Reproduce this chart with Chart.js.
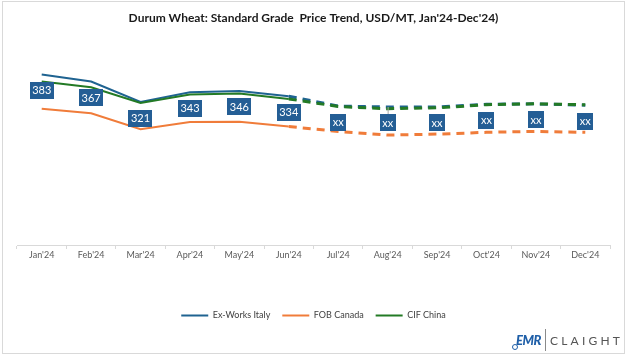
<!DOCTYPE html>
<html>
<head>
<meta charset="utf-8">
<script src="https://cdn.jsdelivr.net/npm/chart.js@4"></script>
<style>
  html, body { margin: 0; padding: 0; background: #fff; }
  #wrap { position: relative; width: 629px; height: 357px; overflow: hidden; }
  #frame { position: absolute; left: 2px; top: 1px; width: 621px; height: 351px; border: 1px solid #d9d9d9; pointer-events: none; }
  canvas { position: absolute; left: 0; top: 0; }
  #logo { position: absolute; left: 512px; top: 328px; height: 24px; font-family: Lato, "Liberation Sans", sans-serif; }
  #logo .emr { position: absolute; left: 4px; top: 4px; font-size: 13px; font-weight: 900; font-style: italic; color: #1f5fa8; letter-spacing: -0.5px; }
  #logo .bar { position: absolute; left: 33px; top: 1px; width: 1px; height: 22px; background: #8a8a8a; }
  #logo .cl { position: absolute; left: 38px; top: 5px; font-size: 12px; color: #555; letter-spacing: 3.2px; }
  #logo .dot { position: absolute; left: 0px; top: 16px; width: 4px; height: 4px; border: 1px solid #1f5fa8; border-radius: 50%; }
</style>
</head>
<body>
<div id="wrap">
  <canvas id="c" width="629" height="357"></canvas>
  <div id="frame"></div>
  <div id="logo"><span class="dot"></span><span class="emr">EMR</span><span class="bar"></span><span class="cl">CLAIGHT</span></div>
</div>
<script>
const categories = ["Jan'24","Feb'24","Mar'24","Apr'24","May'24","Jun'24","Jul'24","Aug'24","Sep'24","Oct'24","Nov'24","Dec'24"];
const exWorksItaly = [383, 367, 321, 343, 346, 334, 312, 310, 310, 316, 317, 314];
const fobCanada    = [306, 296, 260, 276, 277, 266, 255, 247, 249, 253, 255, 253];
const cifChina     = [367, 354, 319, 338, 340, 328, 311, 306, 308, 315, 317, 315];
const dataLabels   = ["383","367","321","343","346","334","xx","xx","xx","xx","xx","xx"];
const seriesNames  = ["Ex-Works Italy", "FOB Canada", "CIF China"];
const titleText    = "Durum Wheat: Standard Grade  Price Trend, USD/MT, Jan'24-Dec'24)";
const forecastStart = 5;

const FONT = 'Lato, "Liberation Sans", sans-serif';

const seg = {
  borderDash: ctx => ctx.p0DataIndex >= forecastStart ? [8, 6] : undefined,
  borderWidth: ctx => ctx.p0DataIndex >= forecastStart ? 3 : 2
};

const labelPlugin = {
  id: 'boxLabels',
  afterDatasetsDraw(chart) {
    const ctx = chart.ctx;
    const meta = chart.getDatasetMeta(0);
    ctx.save();
    ctx.font = '11px ' + FONT;
    meta.data.forEach((pt, i) => {
      const t = dataLabels[i];
      const w = ctx.measureText(t).width + 5;
      const h = 17;
      const cx = pt.x, cy = pt.y + 16;
      if (i === 7) {
        ctx.strokeStyle = '#a6a6a6';
        ctx.lineWidth = 1;
        ctx.beginPath();
        ctx.moveTo(cx + 0.5, pt.y);
        ctx.lineTo(cx + 0.5, cy - h / 2);
        ctx.stroke();
      }
      ctx.fillStyle = '#245e95';
      ctx.fillRect(Math.round(cx - w / 2), Math.round(cy - h / 2), Math.round(w), h);
      ctx.fillStyle = '#ffffff';
      ctx.textAlign = 'center';
      ctx.textBaseline = 'middle';
      ctx.fillText(t, cx, cy + 0.5);
    });
    ctx.restore();
  }
};

new Chart(document.getElementById('c'), {
  type: 'line',
  data: {
    labels: categories,
    datasets: [
      { label: seriesNames[0], data: exWorksItaly, borderColor: '#1f6391', backgroundColor: '#1f6391', borderWidth: 2, pointRadius: 0, tension: 0, segment: seg, order: 1 },
      { label: seriesNames[1], data: fobCanada, borderColor: '#f07c3a', backgroundColor: '#f07c3a', borderWidth: 2, pointRadius: 0, tension: 0, segment: seg, order: 2 },
      { label: seriesNames[2], data: cifChina, borderColor: '#237a25', backgroundColor: '#237a25', borderWidth: 2, pointRadius: 0, tension: 0, segment: seg, order: 0 }
    ]
  },
  options: {
    responsive: false,
    animation: false,
    devicePixelRatio: 1,
    layout: { padding: { left: 17, right: 19, top: 0, bottom: 27 } },
    plugins: {
      tooltip: { enabled: false },
      title: {
        display: true,
        text: titleText,
        color: '#1a1a1a',
        font: { family: FONT, size: 12, weight: 'bold', lineHeight: 1.2 },
        padding: { top: 11, bottom: 19.2 }
      },
      legend: {
        position: 'bottom',
        labels: {
          font: { family: FONT, size: 9 },
          color: '#404040',
          usePointStyle: true,
          pointStyle: 'line',
          pointStyleWidth: 27,
          boxHeight: 9,
          padding: 12,
          sort: (a, b) => a.datasetIndex - b.datasetIndex
        }
      }
    },
    scales: {
      x: {
        offset: true,
        grid: { display: true, offset: true, drawOnChartArea: false, drawTicks: true, tickLength: 4, color: '#d9d9d9' },
        border: { display: true, color: '#d9d9d9', width: 1 },
        ticks: { font: { family: FONT, size: 9 }, color: '#595959', padding: 1, maxRotation: 0, autoSkip: false },
        afterFit(scale) { scale.height = 54; }
      },
      y: {
        display: false,
        min: 0,
        max: 450
      }
    }
  },
  plugins: [labelPlugin]
});
</script>
</body>
</html>
